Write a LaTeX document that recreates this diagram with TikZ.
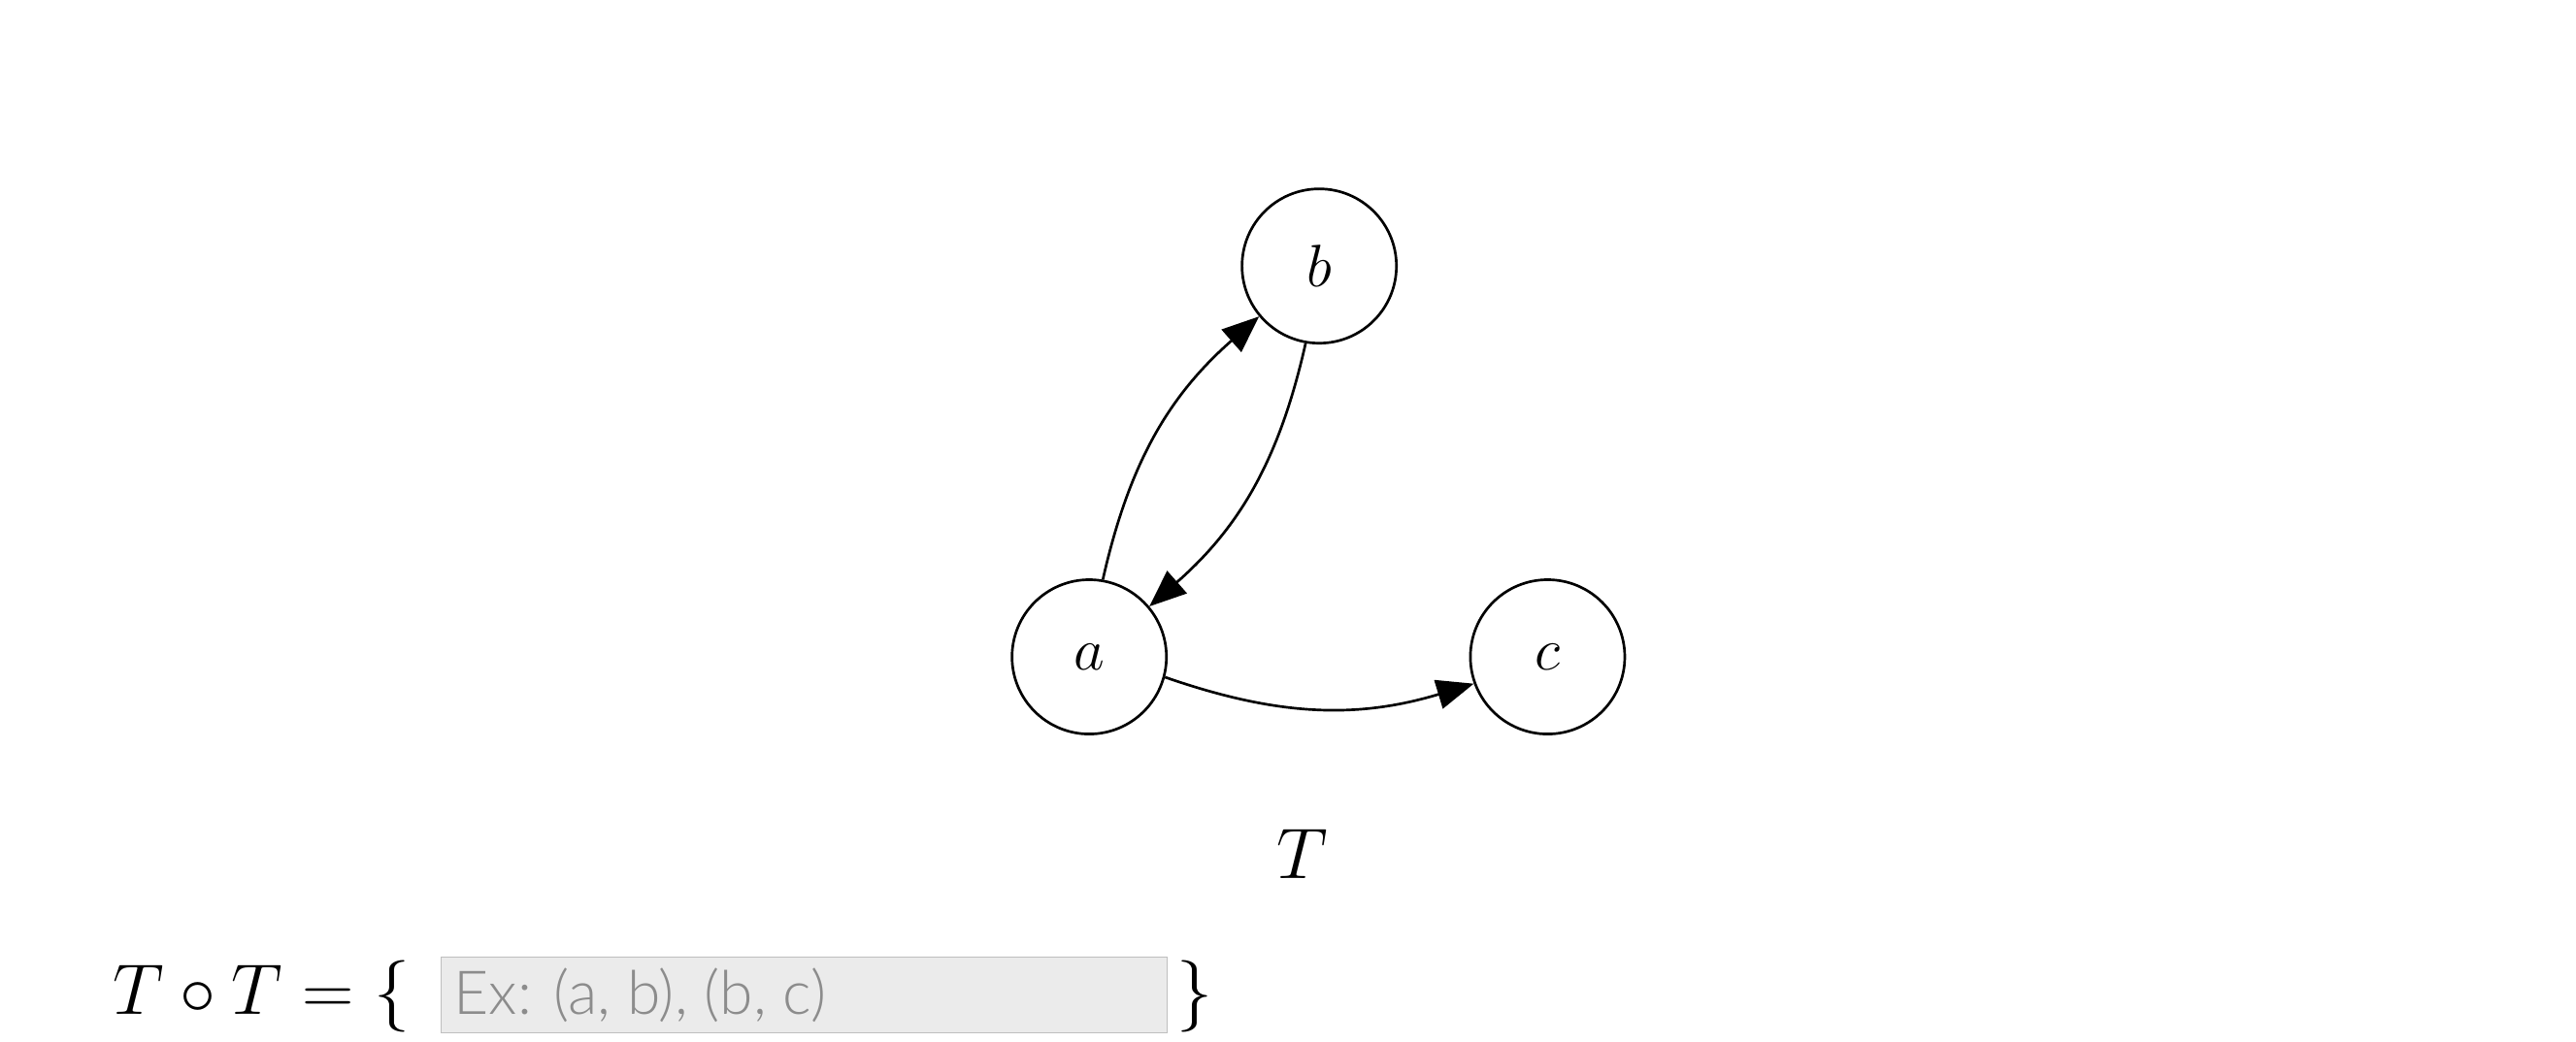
\documentclass[tikz,border=0pt]{standalone}
\usepackage{fontspec}
\usepackage{amsmath}
\newfontfamily\boxfont{Lato Light}
\usetikzlibrary{arrows.meta}
\begin{document}
\begin{tikzpicture}[x=0.02cm,y=-0.02cm,
  vert/.style={circle,draw,line width=0.9pt,minimum size=1.88cm,inner sep=0pt,font=\fontsize{20}{24}\selectfont},
  edge/.style={line width=0.9pt,-{Triangle[length=0.45cm,width=0.36cm]}}]
\useasboundingbox (0,0) rectangle (1568,634);
\node[vert] (b) at (803,162) {$b$};
\node[vert] (a) at (663,400) {$a$};
\node[vert] (c) at (942,400) {$c$};
\draw[edge] (a.80) to[bend left=18] (b.220);
\draw[edge] (b.260) to[bend left=18] (a.40);
\draw[edge] (a.-15) to[bend right=18] (c.200);
\node[font=\fontsize{25}{30}\selectfont] (T) at (793,520) {$T$};
\node[font=\fontsize{25}{30}\selectfont,anchor=east] (lhs) at (256,607) {$T\circ T=\{$};
\node[draw=black!25,fill=black!8,minimum width=8.84cm,minimum height=0.92cm,anchor=west,inner sep=0pt] (box) at (268,606) {};
\node[anchor=west,text=black!45,font=\boxfont\fontsize{21}{24}\selectfont] (ph) at (270,606) {Ex: (a, b), (b, c)};
\node[font=\fontsize{25}{30}\selectfont] (rb) at (727,607) {$\}$};
\end{tikzpicture}
\end{document}
